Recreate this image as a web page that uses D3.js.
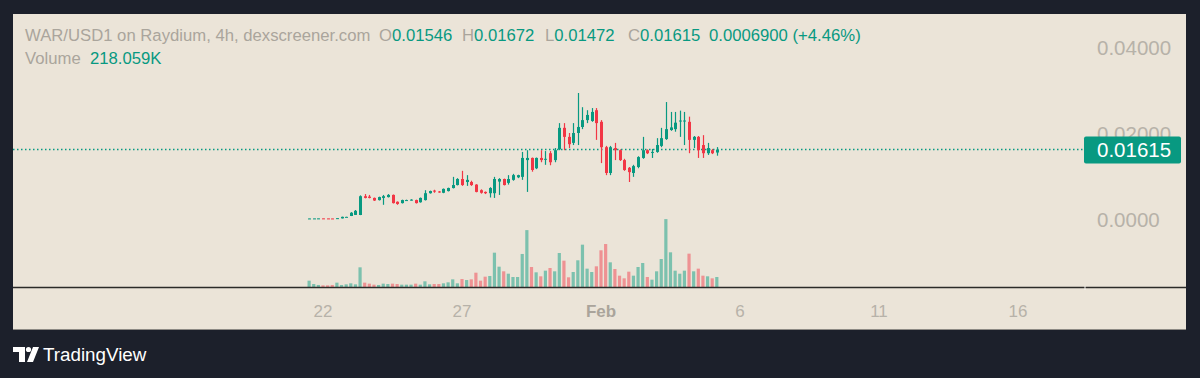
<!DOCTYPE html>
<html><head><meta charset="utf-8">
<script src="https://cdn.jsdelivr.net/npm/d3@7"></script>
<style>
html,body{margin:0;padding:0;background:#1c202b;}
svg{display:block;}
</style></head>
<body>
<svg id="c" width="1200" height="378"></svg>
<script>
// ---- data ----
const firstCandle = Date.UTC(2025, 0, 21, 12); // 4h candles
const opens  = [.00012,.00013,.00014,.00015,.00014,.00013,.00013,.00015,.00048,.00070,.00095,.00093,.00530,.00520,.00490,.00440,.00490,.00510,.00560,.00400,.00370,.00430,.00440,.00440,.00390,.00440,.00600,.00660,.00640,.00610,.00650,.00720,.00790,.00930,.00860,.00860,.00800,.00670,.00630,.00600,.00600,.00870,.00930,.00840,.00910,.00970,.00980,.01370,.01420,.01180,.01420,.01390,.01530,.01370,.01620,.02120,.01910,.01770,.02000,.02140,.02300,.02280,.02530,.02260,.01670,.01070,.01650,.01600,.01370,.01190,.01070,.01210,.01420,.01600,.01550,.01560,.01700,.01860,.02070,.02090,.02270,.02280,.02260,.01840,.01910,.01720,.01530,.01600,.01546];
const highs  = [.00015,.00015,.00016,.00016,.00015,.00014,.00022,.00055,.00052,.00160,.00210,.00550,.00580,.00560,.00500,.00520,.00560,.00580,.00570,.00410,.00450,.00450,.00460,.00450,.00500,.00670,.00660,.00680,.00650,.00710,.00730,.00980,.00950,.01120,.01020,.00890,.00810,.00690,.00640,.00740,.00980,.00950,.00940,.01020,.01050,.01030,.01560,.01600,.01430,.01430,.01600,.01580,.01580,.01650,.02230,.02230,.02000,.02230,.02930,.02600,.02530,.02580,.02580,.02300,.01700,.01700,.01770,.01620,.01400,.01210,.01260,.01460,.01910,.01620,.01630,.01880,.02120,.02720,.02490,.02490,.02520,.02490,.02380,.01930,.01930,.01950,.01770,.01630,.01672];
const lows   = [.00010,.00012,.00013,.00012,.00012,.00011,.00012,.00012,.00046,.00068,.00093,.00090,.00480,.00480,.00420,.00430,.00330,.00500,.00360,.00330,.00360,.00420,.00430,.00360,.00380,.00430,.00590,.00610,.00610,.00600,.00640,.00710,.00780,.00770,.00770,.00770,.00620,.00590,.00580,.00500,.00490,.00560,.00780,.00800,.00890,.00950,.00910,.00630,.01100,.01160,.01320,.01260,.01250,.01320,.01600,.01600,.01650,.01720,.01720,.02090,.02230,.02260,.01840,.01300,.01020,.01020,.01370,.01350,.01120,.00860,.00980,.01180,.01400,.01510,.01420,.01540,.01670,.01840,.02050,.02030,.01910,.01720,.01530,.01650,.01420,.01420,.01490,.01510,.01472];
const closes = [.00013,.00014,.00015,.00013,.00012,.00012,.00020,.00050,.00050,.00145,.00190,.00530,.00490,.00490,.00430,.00510,.00530,.00560,.00370,.00350,.00440,.00440,.00450,.00370,.00490,.00600,.00650,.00640,.00620,.00700,.00720,.00790,.00930,.00790,.00910,.00790,.00630,.00610,.00600,.00720,.00930,.00930,.00790,.00930,.01020,.01020,.01420,.01420,.01140,.01420,.01370,.01400,.01320,.01600,.02120,.01910,.01740,.02000,.02140,.02300,.02420,.02490,.02230,.01670,.01070,.01670,.01600,.01370,.01140,.01090,.01230,.01440,.01600,.01530,.01560,.01720,.01880,.02090,.02130,.02240,.02290,.02290,.01840,.01910,.01600,.01530,.01650,.01530,.01615];
const volumes = [138e3,65e3,44e3,36e3,36e3,44e3,95e3,44e3,58e3,80e3,58e3,429e3,95e3,73e3,51e3,44e3,73e3,65e3,73e3,65e3,51e3,51e3,51e3,73e3,51e3,124e3,58e3,65e3,65e3,80e3,102e3,167e3,80e3,174e3,152e3,167e3,312e3,138e3,225e3,240e3,748e3,443e3,342e3,290e3,218e3,218e3,720e3,1240e3,436e3,320e3,233e3,356e3,414e3,342e3,741e3,574e3,211e3,327e3,582e3,923e3,400e3,327e3,451e3,800e3,937e3,538e3,392e3,247e3,189e3,334e3,247e3,436e3,523e3,218e3,160e3,342e3,610e3,1480e3,756e3,356e3,290e3,356e3,727e3,342e3,400e3,247e3,233e3,189e3,218059];

const xTickDates  = [Date.UTC(2025,0,22),Date.UTC(2025,0,27),Date.UTC(2025,1,1),Date.UTC(2025,1,6),Date.UTC(2025,1,11),Date.UTC(2025,1,16)];
const xTickLabels = ["22","27","Feb","6","11","16"];
const yTickValues = [0, 0.02, 0.04];
const yTickLabels = ["0.0000","0.02000","0.04000"];

const title = "WAR/USD1 on Raydium, 4h, dexscreener.com";
const ohlcLabels = ["O","H","L","C"];
const ohlcValues = ["0.01546","0.01672","0.01472","0.01615"];
const changeText = "0.0006900 (+4.46%)";
const volumeText = "218.059K";
const lastPrice = 0.01615;
const lastPriceText = "0.01615";

// ---- drawing ----
const GREEN = "#089981", RED = "#f23645";
const GREEN_V = "#7cc1ae", RED_V = "#ee9293";
const svg = d3.select("#c");
const FONT = "'Liberation Sans', Arial, sans-serif";

// panel
svg.append("rect").attr("x",13).attr("y",14).attr("width",1173).attr("height",316).attr("fill","#ebe4d8");
svg.append("line").attr("x1",13).attr("x2",1186).attr("y1",329.5).attr("y2",329.5).attr("stroke","#8d8a84").attr("stroke-width",1);

const x = d3.scaleUtc().domain([xTickDates[0], xTickDates[5]]).range([323, 1018]);
const y = d3.scaleLinear().domain([0, 0.04]).range([219, 47]);
const yv = d3.scaleLinear().domain([0, 1600000]).range([287, 213.6]);

const candles = opens.map((o,i)=>({t: firstCandle + i*4*3600*1000, o, h:highs[i], l:lows[i], c:closes[i], v:volumes[i]}));

// volume
svg.append("g").selectAll("rect").data(candles).join("rect")
  .attr("x", d=>x(d.t)-1.6).attr("width",3.2)
  .attr("y", d=>yv(d.v)).attr("height", d=>yv(0)-yv(d.v))
  .attr("fill", d=> d.c>=d.o ? GREEN_V : RED_V);

// last price dotted line
svg.append("line").attr("x1",13).attr("x2",1084).attr("y1",y(lastPrice)).attr("y2",y(lastPrice))
  .attr("stroke",GREEN).attr("stroke-width",1.4).attr("stroke-dasharray","1.5,2.5");

// candles
const cg = svg.append("g");
cg.selectAll("line").data(candles).join("line")
  .attr("x1", d=>Math.round(x(d.t))+0.5).attr("x2", d=>Math.round(x(d.t))+0.5)
  .attr("y1", d=>y(d.h)).attr("y2", d=>y(d.l))
  .attr("stroke", d=> d.c>=d.o ? GREEN : RED).attr("stroke-width",1.2);
cg.selectAll("rect").data(candles).join("rect")
  .attr("x", d=>Math.round(x(d.t))-1).attr("width",3)
  .attr("y", d=>y(Math.max(d.o,d.c))).attr("height", d=>Math.max(1, Math.abs(y(d.o)-y(d.c))))
  .attr("fill", d=> d.c>=d.o ? GREEN : RED);

// separator
svg.append("line").attr("x1",13).attr("x2",1186).attr("y1",287.5).attr("y2",287.5).attr("stroke","#2b2a28").attr("stroke-width",1.5);
svg.append("line").attr("x1",1085).attr("x2",1085).attr("y1",286).attr("y2",290).attr("stroke","#f5f2ec").attr("stroke-width",1);

// y labels
svg.append("g").selectAll("text").data(yTickValues).join("text")
  .attr("x",1097).attr("y", d=>y(d)+7.5).text((d,i)=>yTickLabels[i])
  .attr("font-family",FONT).attr("font-size",20.5).attr("fill","#b7b2a9");

// price tag (covers the 0.02000 label as in the original)
svg.append("rect").attr("x",1084).attr("y",y(lastPrice)-13).attr("width",97).attr("height",27).attr("rx",2).attr("fill",GREEN);
svg.append("text").attr("x",1097).attr("y",y(lastPrice)+7.5).text(lastPriceText)
  .attr("font-family",FONT).attr("font-size",20.5).attr("fill","#ffffff");

// x labels
svg.append("g").selectAll("text").data(xTickDates).join("text")
  .attr("x", d=>x(d)).attr("y",317).attr("text-anchor","middle")
  .text((d,i)=>xTickLabels[i])
  .attr("font-family",FONT).attr("font-size",17)
  .attr("font-weight",(d,i)=>xTickLabels[i]==="Feb"?"bold":"normal")
  .attr("fill",(d,i)=>xTickLabels[i]==="Feb"?"#aaa49b":"#b7b2a9");

// header
const GRAY = "#aaa59c";
const hdr = svg.append("g").attr("font-family",FONT).attr("font-size",16.7);
hdr.append("text").attr("x",25).attr("y",41).attr("fill",GRAY).text(title);
const ohlcX = [379, 462, 545, 628];
ohlcLabels.forEach((lab,i)=>{
  const t = hdr.append("text").attr("x",ohlcX[i]).attr("y",41);
  t.append("tspan").attr("fill",GRAY).text(lab);
  t.append("tspan").attr("fill",GREEN).text(ohlcValues[i]);
});
hdr.append("text").attr("x",709).attr("y",41).attr("fill",GREEN).text(changeText);
hdr.append("text").attr("x",25).attr("y",64).attr("fill",GRAY).text("Volume");
hdr.append("text").attr("x",90).attr("y",64).attr("fill",GREEN).text(volumeText);

// TradingView logo
const lg = svg.append("g").attr("fill","#ffffff");
lg.append("path").attr("d","M13,347 H25 V362 H19 V352 H13 Z");
lg.append("circle").attr("cx",28.5).attr("cy",349.5).attr("r",2.6);
lg.append("path").attr("d","M33,347 H39 L33,362 H27 Z");
svg.append("text").attr("x",43).attr("y",361).text("TradingView")
  .attr("font-family",FONT).attr("font-size",18.8).attr("fill","#ffffff");
</script>
</body></html>
